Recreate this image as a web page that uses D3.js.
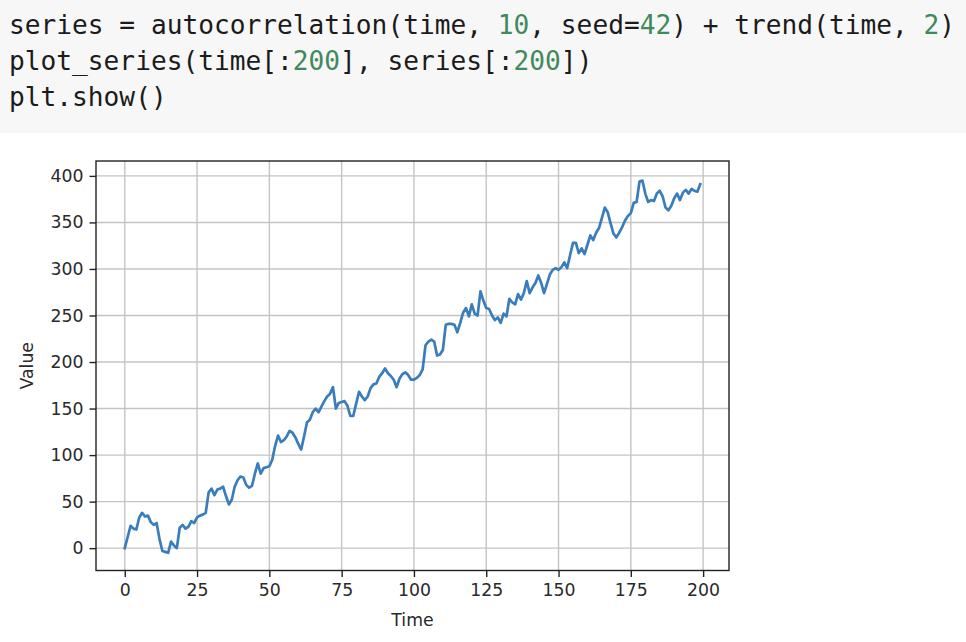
<!DOCTYPE html>
<html>
<head>
<meta charset="utf-8">
<script src="https://cdn.jsdelivr.net/npm/d3@7/dist/d3.min.js"></script>
<style>
  html, body { margin: 0; padding: 0; background: #ffffff; }
  svg { display: block; }
</style>
</head>
<body>
<svg id="chart" width="966" height="642"></svg>
<script>
// ---- Code cell text (tokens: [text, isNumber]) ----
const codeLines = [
  [["series = autocorrelation(time, ", 0], ["10", 1], [", seed=", 0], ["42", 1], [") + trend(time, ", 0], ["2", 1], [")", 0]],
  [["plot_series(time[:", 0], ["200", 1], ["], series[:", 0], ["200", 1], ["])", 0]],
  [["plt.show()", 0]]
];

// ---- Data ----
const seriesValues = [
  0, 12, 24, 21, 20, 33, 38, 34, 35, 28,
  25, 27, 10, -3, -4, -5, 7, 3, 0, 22,
  25, 21, 23, 29, 27, 33, 35, 36, 38, 60,
  64, 57, 63, 64, 66, 56, 47, 52, 66, 73,
  77, 76, 68, 65, 67, 80, 91, 80, 86, 87,
  88, 95, 110, 121, 114, 116, 120, 126, 124, 119,
  112, 106, 120, 135, 138, 146, 150, 146, 152, 158,
  163, 166, 173, 150, 156, 157, 158, 153, 142, 142,
  155, 168, 163, 159, 163, 172, 176, 177, 184, 188,
  193, 188, 185, 181, 173, 182, 187, 189, 186, 181,
  181, 183, 186, 192, 218, 222, 224, 222, 207, 208,
  213, 240, 241, 241, 240, 232, 242, 253, 258, 249,
  262, 252, 250, 276, 266, 258, 257, 250, 245, 248,
  242, 252, 249, 268, 264, 262, 273, 267, 274, 287,
  274, 280, 285, 293, 285, 274, 284, 294, 299, 301,
  299, 302, 307, 301, 315, 328, 328, 317, 322, 316,
  326, 336, 331, 339, 344, 355, 366, 361, 349, 338,
  334, 339, 345, 352, 357, 360, 371, 372, 394, 395,
  381, 372, 374, 373, 381, 384, 378, 366, 363, 368,
  376, 381, 374, 382, 385, 381, 386, 384, 383, 391
];
const timeValues = seriesValues.map((_, i) => i);

const xTicks = [0, 25, 50, 75, 100, 125, 150, 175, 200];
const yTicks = [0, 50, 100, 150, 200, 250, 300, 350, 400];
const xLabel = "Time";
const yLabel = "Value";

// ---- Layout ----
const W = 966, H = 642;
const axL = 96, axR = 729, axT = 161, axB = 570.5;

const svg = d3.select("#chart");

// code cell
svg.append("rect").attr("x", 0).attr("y", 0).attr("width", W).attr("height", 133).attr("fill", "#f7f7f7");
const baselines = [34, 70, 106];
codeLines.forEach((toks, i) => {
  const t = svg.append("text")
    .attr("x", 9).attr("y", baselines[i])
    .attr("font-family", "'DejaVu Sans Mono', monospace")
    .attr("font-size", 26.2)
    .attr("fill", "#1b1b1b")
    .attr("xml:space", "preserve")
    .style("white-space", "pre");
  toks.forEach(([s, isNum]) => {
    t.append("tspan").attr("fill", isNum ? "#3f8a5b" : "#1b1b1b").text(s);
  });
});

// scales
const xMin = d3.min(timeValues), xMax = d3.max(timeValues);
const xPad = (xMax - xMin) * 0.05;
const x = d3.scaleLinear().domain([xMin - xPad, xMax + xPad]).range([axL, axR]);
const y = d3.scaleLinear().domain([-24, 416]).range([axB, axT]);

// grid
const grid = svg.append("g");
grid.selectAll("line.gx").data(xTicks).join("line")
  .attr("x1", d => x(d)).attr("x2", d => x(d))
  .attr("y1", axT).attr("y2", axB)
  .attr("stroke", "#c4c4c4").attr("stroke-width", 1.4);
grid.selectAll("line.gy").data(yTicks).join("line")
  .attr("y1", d => y(d)).attr("y2", d => y(d))
  .attr("x1", axL).attr("x2", axR)
  .attr("stroke", "#c4c4c4").attr("stroke-width", 1.4);

// line
const line = d3.line().x((d, i) => x(timeValues[i])).y(d => y(d));
svg.append("path")
  .datum(seriesValues)
  .attr("d", line)
  .attr("fill", "none")
  .attr("stroke", "#3a7dba")
  .attr("stroke-width", 2.7)
  .attr("stroke-linejoin", "round")
  .attr("stroke-linecap", "square");

// axes
const xAxis = d3.axisBottom(x).tickValues(xTicks).tickSize(6.5).tickPadding(7).tickFormat(d3.format("d"));
const yAxis = d3.axisLeft(y).tickValues(yTicks).tickSize(6.5).tickPadding(6).tickFormat(d3.format("d"));

const gx = svg.append("g").attr("transform", `translate(0,${axB})`).call(xAxis);
const gy = svg.append("g").attr("transform", `translate(${axL},0)`).call(yAxis);
[gx, gy].forEach(g => {
  g.select(".domain").remove();
  g.selectAll(".tick line").attr("stroke", "#222").attr("stroke-width", 1.4);
  g.selectAll(".tick text")
    .attr("font-family", "'DejaVu Sans', sans-serif")
    .attr("font-size", 17.3)
    .attr("fill", "#2a2a2a");
});

// frame
svg.append("rect")
  .attr("x", axL).attr("y", axT)
  .attr("width", axR - axL).attr("height", axB - axT)
  .attr("fill", "none").attr("stroke", "#222").attr("stroke-width", 1.4);

// labels
svg.append("text")
  .attr("x", (axL + axR) / 2).attr("y", 626)
  .attr("text-anchor", "middle")
  .attr("font-family", "'DejaVu Sans', sans-serif")
  .attr("font-size", 17.3).attr("fill", "#2a2a2a")
  .text(xLabel);
svg.append("text")
  .attr("transform", `translate(33,${(axT + axB) / 2}) rotate(-90)`)
  .attr("text-anchor", "middle")
  .attr("font-family", "'DejaVu Sans', sans-serif")
  .attr("font-size", 17.3).attr("fill", "#2a2a2a")
  .text(yLabel);
</script>
</body>
</html>
